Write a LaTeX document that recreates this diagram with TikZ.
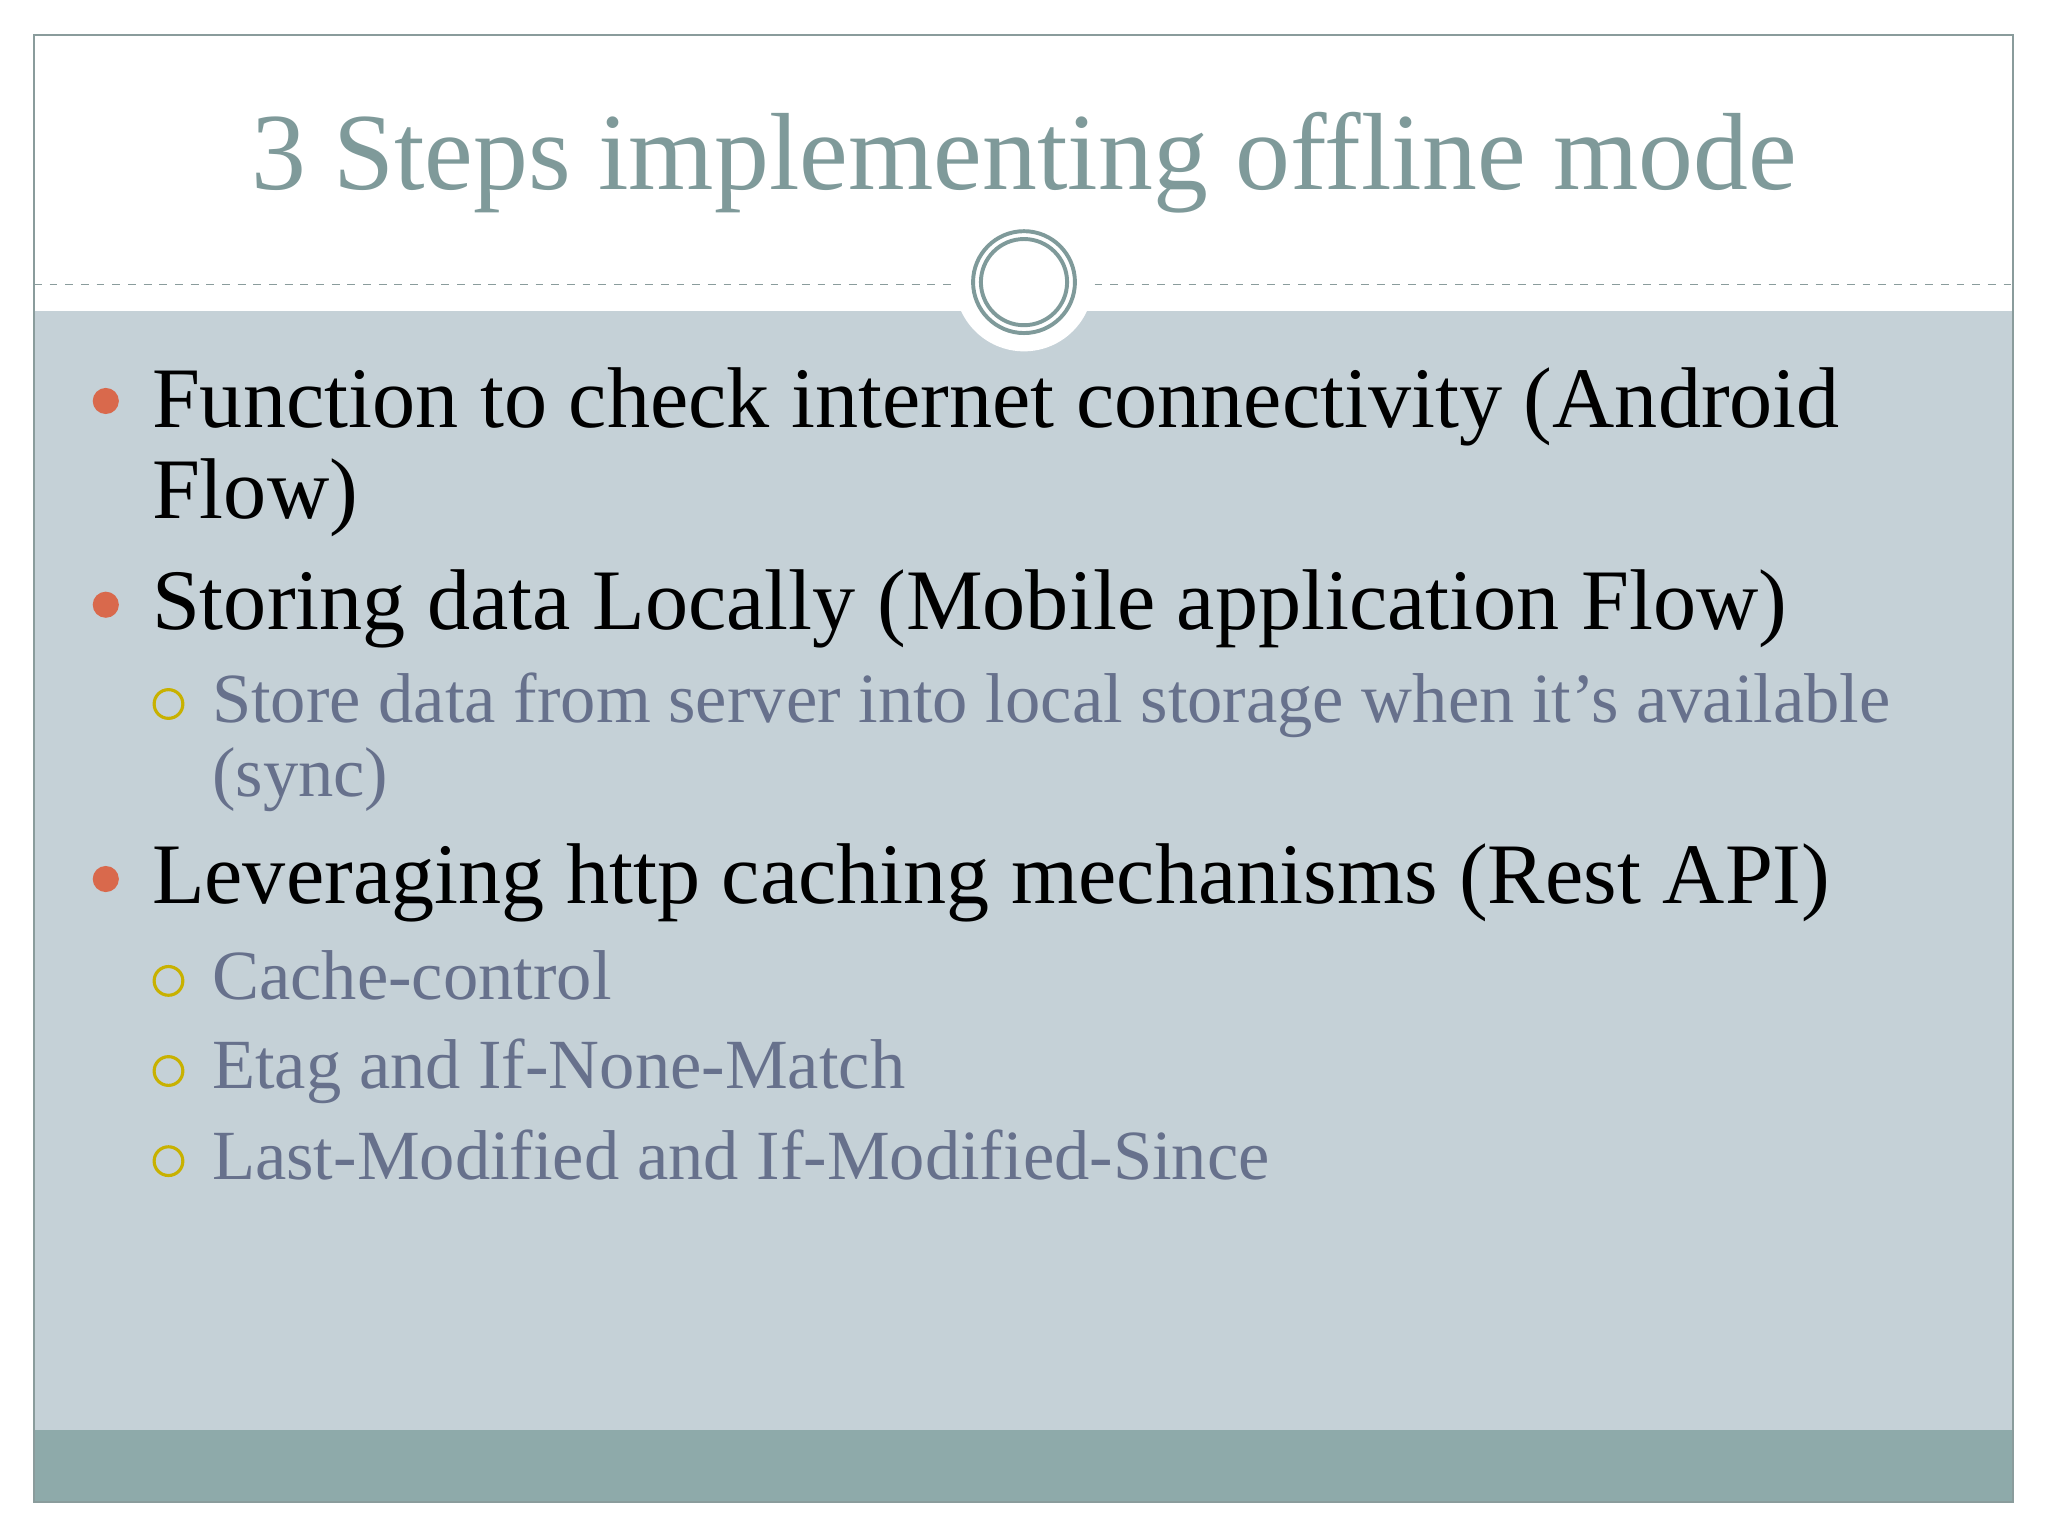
\documentclass[tikz,border=0pt]{standalone}
\usepackage{fontspec}
\setmainfont{Liberation Serif}
\definecolor{bodyg}{HTML}{C5D1D7}
\definecolor{footg}{HTML}{8EAAAA}
\definecolor{titleg}{HTML}{7F9A9A}
\definecolor{subg}{HTML}{67718C}
\definecolor{dotor}{HTML}{D9694C}
\definecolor{ringy}{HTML}{C8B100}
\definecolor{frameg}{HTML}{8A9C9C}
\begin{document}
\begin{tikzpicture}[x=0.5pt,y=-0.5pt,
  mainT/.style={anchor=base west,inner sep=0pt,font=\fontsize{33}{40}\selectfont},
  subT/.style={anchor=base west,inner sep=0pt,text=subg,font=\fontsize{27}{32}\selectfont},
  dotB/.style={circle,fill=dotor,minimum size=10pt,inner sep=0pt},
  ringB/.style={circle,draw=ringy,line width=1.2pt,minimum size=11pt,inner sep=0pt}]
\useasboundingbox (0,0) rectangle (1568,1176);
\fill[white] (0,0) rectangle (1568,1176);
\fill[bodyg] (26,238) rectangle (1541,1095);
\fill[footg] (26,1095) rectangle (1541,1150);
\draw[frameg,line width=0.6pt] (26,27) rectangle (1541,1150);
\draw[frameg,dashed,line width=0.5pt] (26,218) -- (730,218);
\draw[frameg,dashed,line width=0.5pt] (838,218) -- (1541,218);
\fill[white] (784,216) circle[radius=53];
\node[circle,draw=titleg,line width=1.5pt,minimum size=39pt,inner sep=0pt] (c1) at (784,216) {};
\node[circle,draw=titleg,line width=1.5pt,minimum size=33pt,inner sep=0pt] (c2) at (784,216) {};
\node[anchor=base,inner sep=0pt,text=titleg,font=\fontsize{42}{48}\selectfont] (title) at (784,145) {3 Steps implementing offline mode};
\node[dotB] (d1) at (81,307) {};
\node[mainT] (t1) at (116,327) {Function to check internet connectivity (Android};
\node[mainT] (t1b) at (116,397) {Flow)};
\node[dotB] (d2) at (81,463) {};
\node[mainT] (t2) at (116,482) {Storing data Locally (Mobile application Flow)};
\node[ringB] (r1) at (129,539) {};
\node[subT] (s1) at (162,553) {Store data from server into local storage when it’s available};
\node[subT] (s1b) at (162,610) {(sync)};
\node[dotB] (d3) at (81,673) {};
\node[mainT] (t3) at (116,692) {Leveraging http caching mechanisms (Rest API)};
\node[ringB] (r2) at (129,751) {};
\node[subT] (s2) at (162,765) {Cache-control};
\node[ringB] (r3) at (129,820) {};
\node[subT] (s3) at (162,833) {Etag and If-None-Match};
\node[ringB] (r4) at (129,889) {};
\node[subT] (s4) at (162,903) {Last-Modified and If-Modified-Since};
\end{tikzpicture}
\end{document}
